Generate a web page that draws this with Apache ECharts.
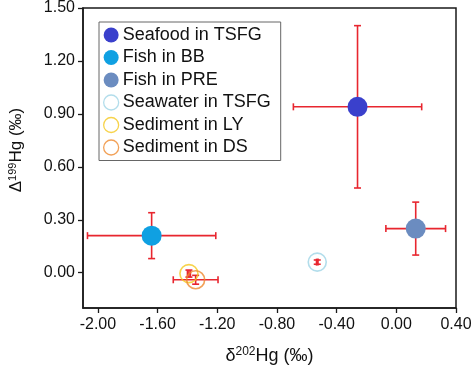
<!DOCTYPE html>
<html>
<head>
<meta charset="utf-8">
<script src="https://cdn.jsdelivr.net/npm/echarts@6/dist/echarts.min.js"></script>
<style>html,body{margin:0;padding:0;background:#fff}#c{width:474px;height:369px}</style>
</head>
<body>
<div id="c"></div>
<script>
var names = ['Seafood in TSFG', 'Fish in BB', 'Fish in PRE', 'Seawater in TSFG', 'Sediment in LY', 'Sediment in DS'];
var xVals = [-0.26, -1.64, 0.13, -0.53, -1.39, -1.345];
var yVals = [0.94, 0.21, 0.25, 0.06, -0.005, -0.04];
var xErr = [0.43, 0.43, 0.20, 0.005, 0.01, 0.15];
var yErr = [0.46, 0.13, 0.15, 0.012, 0.02, 0.025];
var colors = ['#3a40cc', '#0fa0e2', '#6b8cc0', '#9fd4e6', '#f5c81e', '#ef8a2e'];
var hollow = [false, false, false, true, true, true];
var xTicks = [-2.0, -1.6, -1.2, -0.8, -0.4, 0.0, 0.4];
var yTicks = [0.0, 0.3, 0.6, 0.9, 1.2, 1.5];

var FONT = 'Liberation Sans, Arial, sans-serif';
var chart = echarts.init(document.getElementById('c'));

var errData = names.map(function (n, i) { return [xVals[i], yVals[i], xErr[i], yErr[i]]; });
var CAP = 3.5;
var errStyle = { stroke: '#e8262f', lineWidth: 1.6 };

var series = [{
  type: 'custom',
  name: 'err',
  z: 1,
  silent: true,
  data: errData,
  renderItem: function (params, api) {
    var x = api.value(0), y = api.value(1), ex = api.value(2), ey = api.value(3);
    var l = api.coord([x - ex, y]), r = api.coord([x + ex, y]);
    var t = api.coord([x, y + ey]), b = api.coord([x, y - ey]);
    function line(x1, y1, x2, y2) {
      return { type: 'line', shape: { x1: x1, y1: y1, x2: x2, y2: y2 }, style: errStyle };
    }
    return {
      type: 'group',
      children: [
        line(l[0], l[1], r[0], r[1]),
        line(l[0], l[1] - CAP, l[0], l[1] + CAP),
        line(r[0], r[1] - CAP, r[0], r[1] + CAP),
        line(t[0], t[1], b[0], b[1]),
        line(t[0] - CAP, t[1], t[0] + CAP, t[1]),
        line(b[0] - CAP, b[1], b[0] + CAP, b[1])
      ]
    };
  }
}];

names.forEach(function (n, i) {
  series.push({
    type: 'scatter',
    name: n,
    z: hollow[i] ? 3 : 2,
    symbol: 'circle',
    symbolSize: hollow[i] ? 18 : 20,
    data: [[xVals[i], yVals[i]]],
    itemStyle: hollow[i]
      ? { color: 'rgba(255,255,255,0)', borderColor: colors[i], borderWidth: 1.6 }
      : { color: colors[i], opacity: 1 }
  });
});

chart.setOption({
  animation: false,
  backgroundColor: '#fff',
  grid: { left: 83, right: 18, top: 8, bottom: 61, show: true, borderColor: '#1a1a1a', borderWidth: 1.5, backgroundColor: 'transparent', containLabel: false, outerBoundsMode: 'none' },
  legend: {
    data: names.map(function (n, i) {
      return {
        name: n,
        icon: 'circle',
        itemStyle: hollow[i]
          ? { color: 'rgba(255,255,255,0)', borderColor: colors[i], borderWidth: 1.3 }
          : { color: colors[i] }
      };
    }),
    orient: 'vertical',
    left: 99,
    top: 22,
    itemWidth: 15,
    itemHeight: 15,
    itemGap: 4.5,
    padding: [4, 10, 4, 4],
    borderColor: '#666',
    borderWidth: 1,
    backgroundColor: '#fff',
    textStyle: { fontFamily: FONT, fontSize: 18, color: '#111', padding: [0, 0, 0, -1] }
  },
  xAxis: {
    type: 'value',
    min: -2.1,
    max: 0.4,
    name: '{a|δ}{s|202}{a|Hg (‰)}',
    nameLocation: 'middle',
    nameGap: 38,
    nameTextStyle: {
      rich: {
        a: { fontFamily: FONT, fontSize: 18, color: '#111' },
        s: { fontFamily: FONT, fontSize: 12, color: '#111', verticalAlign: 'top', padding: [0, 0, 9, 0] }
      }
    },
    axisLine: { onZero: false, lineStyle: { color: '#1a1a1a', width: 1.5 } },
    axisTick: { show: true, inside: false, length: 5, customValues: xTicks, lineStyle: { color: '#1a1a1a', width: 1.3 } },
    axisLabel: {
      customValues: xTicks, margin: 9,
      fontFamily: FONT, fontSize: 16, color: '#111',
      formatter: function (v) { return v.toFixed(2); }
    },
    splitLine: { show: false }
  },
  yAxis: {
    type: 'value',
    min: -0.2,
    max: 1.5,
    name: '{a|Δ}{s|199}{a|Hg (‰)}',
    nameLocation: 'middle',
    nameGap: 57,
    nameRotate: 90,
    nameTextStyle: {
      padding: [0, 0, 0, 16],
      rich: {
        a: { fontFamily: FONT, fontSize: 17, color: '#111' },
        s: { fontFamily: FONT, fontSize: 11, color: '#111', verticalAlign: 'top', padding: [0, 0, 8, 0] }
      }
    },
    axisLine: { onZero: false, lineStyle: { color: '#1a1a1a', width: 1.5 } },
    axisTick: { show: true, inside: false, length: 5, customValues: yTicks, lineStyle: { color: '#1a1a1a', width: 1.3 } },
    axisLabel: {
      customValues: yTicks, margin: 8,
      fontFamily: FONT, fontSize: 16, color: '#111',
      formatter: function (v) { return v.toFixed(2); }
    },
    splitLine: { show: false }
  },
  series: series
});
</script>
</body>
</html>
